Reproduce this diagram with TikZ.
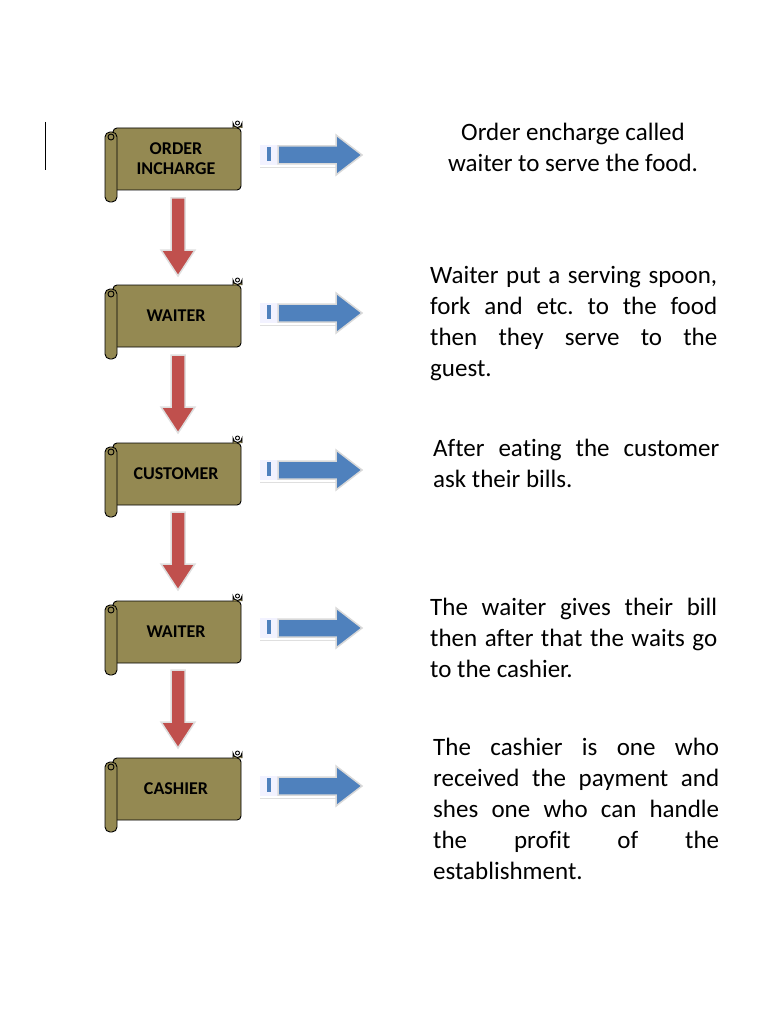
\documentclass[tikz,border=0pt]{standalone}
\usepackage{fontspec}
\setmainfont{Carlito}[Ligatures=NoCommon]
\begin{document}
\frenchspacing
\begin{tikzpicture}[x=1pt,y=-1pt,
  lab/.style={font=\bfseries\fontsize{18}{20}\selectfont, align=center},
  txt/.style={anchor=north west, font=\fontsize{25}{31}\selectfont, inner sep=0pt, align=left}]
\definecolor{scrc}{RGB}{148,137,82}
\definecolor{bl}{RGB}{79,129,189}
\definecolor{rd}{RGB}{192,80,77}
\useasboundingbox (0,0) rectangle (768,1024);
\draw[line width=1pt] (45,122) -- (45,170);
\newcommand{\myscroll}[3]{%
  \begin{scope}[shift={(105,#1)}]
   \draw[fill=scrc,line width=0.9pt,rounded corners=4pt] (8,0) -- (136,0) -- (136,62) -- (8,62) -- cycle;
   \draw[fill=scrc,line width=0.9pt] (128,0) -- (128,-5) arc(180:0:4.5) -- (137,0);
   \draw[line width=0.9pt] (132.5,-5) circle(2);
   \draw[fill=scrc,line width=0.9pt,rounded corners=5pt] (0,4) rectangle (12,74);
   \draw[line width=0.9pt] (6,9) circle(3);
   \node[lab] (#2) at (71,31) {#3};
  \end{scope}}
\newcommand{\bluearrow}[2]{%
  \begin{scope}[shift={(258,#1)}]
   \fill[blue!5] (2,-10) rectangle (20,10);
   \draw[white!75!gray] (2,12) -- (80,12);
   \fill[bl] (9,-8) rectangle (13,6);
   \draw[white!70!gray,line width=1.5pt,fill=bl] (20,-9) -- (78,-9) -- (78,-20) -- (104,0) -- (78,20) -- (78,9) -- (20,9) -- cycle;
   \coordinate (#2) at (0,0);
  \end{scope}}
\myscroll{128}{s1}{ORDER\\INCHARGE}
\myscroll{285}{s2}{WAITER}
\myscroll{443}{s3}{CUSTOMER}
\myscroll{601}{s4}{WAITER}
\myscroll{758}{s5}{CASHIER}
\foreach \y [count=\i] in {155,313,470,628,786}{\bluearrow{\y}{b\i}}
\foreach \y in {198,355,512,670}{
  \begin{scope}[shift={(178,\y)}]
  \draw[white!75!gray,line width=1.5pt,fill=rd] (-7,0) -- (7,0) -- (7,52) -- (17,52) -- (0,78) -- (-17,52) -- (-7,52) -- cycle;
  \end{scope}}
\node[txt,anchor=north,align=center] (t1) at (573,123) {Order encharge called\\waiter to serve the food.};
\node[txt] (t2) at (430,266) {\makebox[287pt][s]{Waiter put a serving spoon,}\\\makebox[287pt][s]{fork and etc. to the food}\\\makebox[287pt][s]{then they serve to the}\\guest.};
\node[txt] (t3) at (433,439) {\makebox[286pt][s]{After eating the customer}\\ask their bills.};
\node[txt] (t4) at (430,598) {\makebox[287pt][s]{The waiter gives their bill}\\\makebox[287pt][s]{then after that the waits go}\\to the cashier.};
\node[txt] (t5) at (433,738) {\makebox[286pt][s]{The cashier is one who}\\\makebox[286pt][s]{received the payment and}\\\makebox[286pt][s]{shes one who can handle}\\\makebox[286pt][s]{the profit of the}\\establishment.};
\end{tikzpicture}
\end{document}
